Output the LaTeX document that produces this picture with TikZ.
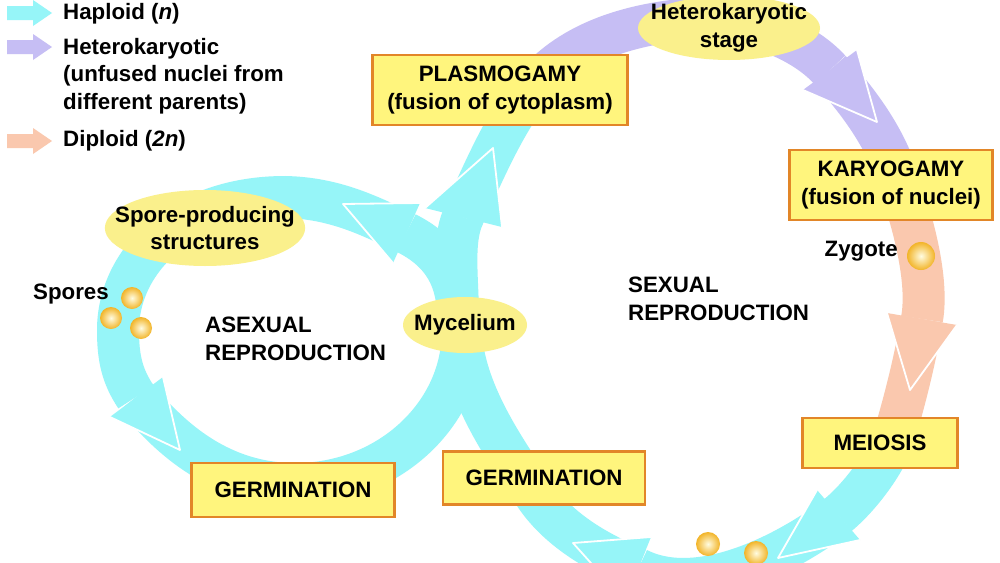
\documentclass[tikz,border=0pt]{standalone}
\usepackage{fontspec}
\setmainfont{Liberation Sans}
\usetikzlibrary{shapes.geometric}
\definecolor{cyanband}{RGB}{150,245,248}
\definecolor{purpleband}{RGB}{198,190,244}
\definecolor{salmonband}{RGB}{250,200,174}
\definecolor{boxfill}{RGB}{255,245,125}
\definecolor{boxline}{RGB}{226,134,40}
\definecolor{ovalfill}{RGB}{250,240,140}
\definecolor{ballin}{RGB}{255,252,225}
\definecolor{ballout}{RGB}{242,180,40}
\newcommand\bandhead[4]{%
  \fill[#4] (#2) -- (#1) -- (#3) -- cycle;
  \draw[white, line width=1.8pt, line join=round] (#2) -- (#1) -- (#3);}
\begin{document}
\begin{tikzpicture}[x=1pt,y=-1pt,
  band/.style={line width=42pt},
  txt/.style={font=\fontsize{22.3}{27.5}\selectfont\bfseries, inner sep=0pt, text=black},
  box/.style={txt, draw=boxline, line width=2.5pt, fill=boxfill, align=center},
  oval/.style={txt, ellipse, fill=ovalfill, align=center, inner ysep=-3pt},
  spore/.style={inner color=ballin, outer color=ballout}]
\useasboundingbox (0,0) rectangle (1000,562);
\clip (0,0) rectangle (1000,562);
\fill[white] (0,0) rectangle (1000,562);

% key points of the bands
\coordinate (myT) at (458,318);
\coordinate (myB) at (462,345);
\coordinate (h1t) at (343,204); \coordinate (h1a) at (420,203); \coordinate (h1b) at (393,263); \coordinate (h1m) at (406,233);
\coordinate (h2t) at (180,450); \coordinate (h2a) at (110,417); \coordinate (h2b) at (163,377); \coordinate (h2m) at (136,397);
\coordinate (h3t) at (493,148); \coordinate (h3a) at (425,208); \coordinate (h3b) at (502,227); \coordinate (h3m) at (463,217);
\coordinate (h4t) at (877,122); \coordinate (h4a) at (803,90);  \coordinate (h4b) at (857,50);  \coordinate (h4m) at (830,70);
\coordinate (h5t) at (910,390); \coordinate (h5a) at (887,313); \coordinate (h5b) at (957,325); \coordinate (h5m) at (922,319);
\coordinate (h6t) at (778,558); \coordinate (h6a) at (817,490); \coordinate (h6b) at (860,540); \coordinate (h6m) at (838,515);
\coordinate (h7t) at (573,543); \coordinate (h7a) at (651,537); \coordinate (h7b) at (625,601); \coordinate (h7m) at (638,569);
\coordinate (plasJ) at (520,105);
\coordinate (karyJ) at (900,185);
\coordinate (meioJ) at (893,440);

% asexual loop bands
\draw[band, cyanband] (h2m) .. controls (165,432) and (215,484) .. (295,484)
   .. controls (385,484) and (455,420) .. (myB);
\draw[band, cyanband] (h1m) .. controls (370,216) and (335,198) .. (285,197)
   .. controls (180,197) and (118,262) .. (118,330)
   .. controls (118,358) and (122,376) .. (h2m);
\draw[band, cyanband] (myT) .. controls (458,280) and (444,252) .. (h1m);

% sexual loop bands
\draw[band, cyanband] (h7m) .. controls (590,550) and (555,525) .. (535,495)
   .. controls (505,450) and (470,400) .. (myB);
\draw[band, cyanband] (h6m) .. controls (790,552) and (700,600) .. (h7m);
\draw[band, cyanband] (meioJ) .. controls (885,462) and (862,495) .. (h6m);
\draw[band, salmonband] (h5m) .. controls (915,360) and (905,400) .. (meioJ);
\draw[band, salmonband] (karyJ) .. controls (912,220) and (929,279) .. (h5m);
\draw[band, purpleband] (h4m) .. controls (870,114) and (890,150) .. (karyJ);
\draw[band, purpleband] (plasJ) .. controls (545,65) and (590,30) .. (680,20)
   .. controls (740,15) and (800,37) .. (h4m);
\draw[band, cyanband] (h3m) .. controls (485,168) and (500,135) .. (plasJ);
\draw[band, cyanband] (myT) .. controls (458,280) and (452,242) .. (h3m);

% arrow heads
\bandhead{h1t}{h1a}{h1b}{cyanband}
\bandhead{h2t}{h2a}{h2b}{cyanband}
\bandhead{h3t}{h3a}{h3b}{cyanband}
\bandhead{h4t}{h4a}{h4b}{purpleband}
\bandhead{h5t}{h5a}{h5b}{salmonband}
\bandhead{h6t}{h6a}{h6b}{cyanband}
\bandhead{h7t}{h7a}{h7b}{cyanband}

% legend
\fill[cyanband] (7,6) -- (33,6) -- (33,0) -- (52,13) -- (33,26) -- (33,20) -- (7,20) -- cycle;
\fill[purpleband] (7,40) -- (33,40) -- (33,34) -- (52,47) -- (33,60) -- (33,54) -- (7,54) -- cycle;
\fill[salmonband] (7,134) -- (33,134) -- (33,128) -- (52,141) -- (33,154) -- (33,148) -- (7,148) -- cycle;
\node[txt, anchor=west] (lgH) at (63,14) {Haploid (\textit{n})};
\node[txt, anchor=west, align=left] (lgK) at (63,76) {Heterokaryotic\\(unfused nuclei from\\different parents)};
\node[txt, anchor=west] (lgD) at (63,141) {Diploid (\textit{2n})};

% stages
\node[oval, inner xsep=-16pt, minimum width=182pt, minimum height=64pt] (het) at (729,28) {Heterokaryotic\\stage};
\node[box, minimum width=255pt, minimum height=70pt] (plas) at (500,90) {PLASMOGAMY\\(fusion of cytoplasm)};
\node[box, minimum width=203pt, minimum height=70pt] (kary) at (891,185) {KARYOGAMY\\(fusion of nuclei)};
\node[box, minimum width=155pt, minimum height=50pt] (meio) at (880,443) {MEIOSIS};
\node[box, minimum width=202pt, minimum height=53pt] (germR) at (544,478) {GERMINATION};
\node[box, minimum width=203pt, minimum height=54pt] (germL) at (293,490) {GERMINATION};
\node[oval, inner xsep=-9pt, minimum width=124pt, minimum height=56pt] (myc) at (465,325) {Mycelium};
\node[oval, inner xsep=-19pt, minimum width=196pt, minimum height=76pt] (spst) at (205,228) {Spore-producing\\structures};

\node[txt, anchor=east] (zyg) at (898,251) {Zygote};
\shade[spore] (921,256) circle[radius=14pt];
\node[txt, anchor=west, align=left] (sex) at (628,299) {SEXUAL\\REPRODUCTION};
\node[txt, anchor=west, align=left] (asex) at (205,339) {ASEXUAL\\REPRODUCTION};
\node[txt, anchor=west] (spr) at (33,294) {Spores};
\shade[spore] (132,298) circle[radius=11pt];
\shade[spore] (111,318) circle[radius=11pt];
\shade[spore] (141,328) circle[radius=11pt];
\shade[spore] (708,544) circle[radius=12pt];
\shade[spore] (756,553) circle[radius=12pt];
\end{tikzpicture}
\end{document}
